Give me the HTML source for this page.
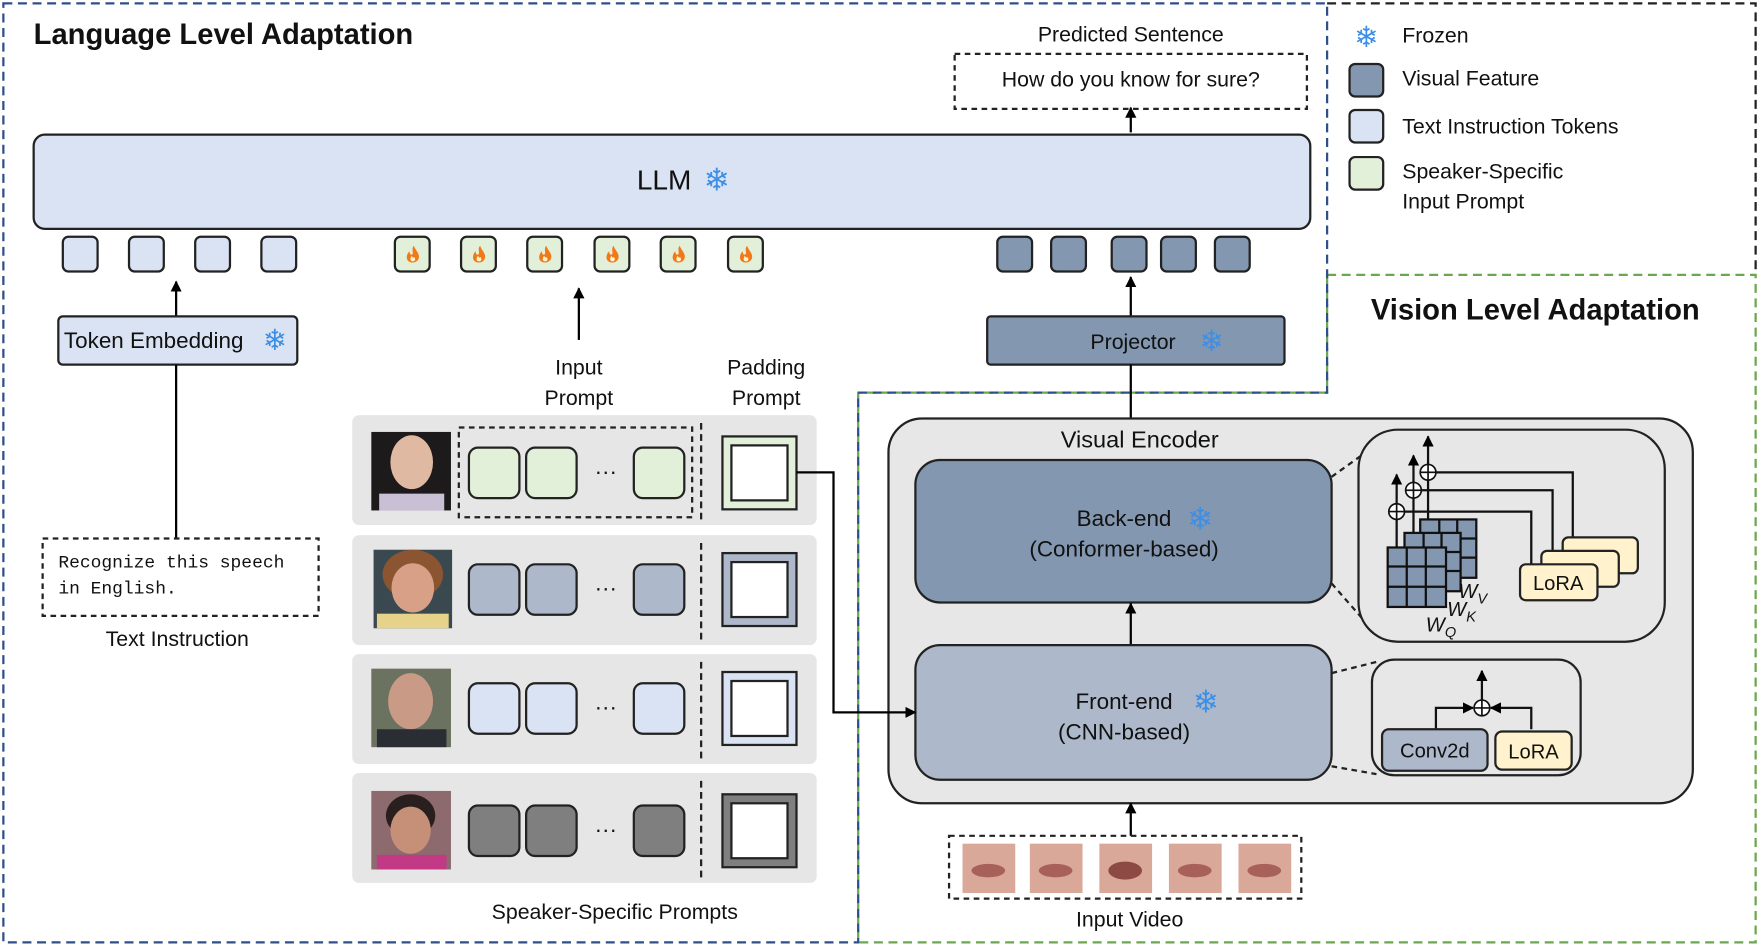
<!DOCTYPE html>
<html><head><meta charset="utf-8"><style>
html,body{margin:0;padding:0;background:#fff;width:1759px;height:948px;overflow:hidden}
svg{display:block}
text{font-family:"Liberation Sans","DejaVu Sans",sans-serif;fill:#111}
.m{font-family:"Liberation Mono","DejaVu Sans Mono",monospace}
.sf{fill:#3d8fe6;font-family:"DejaVu Sans",sans-serif}
</style></head><body>
<svg width="1759" height="948" viewBox="0 0 1568 845" preserveAspectRatio="none" xmlns="http://www.w3.org/2000/svg">
<defs>
<marker id="ar" markerWidth="10" markerHeight="10" refX="9" refY="5" orient="auto" markerUnits="userSpaceOnUse"><path d="M0,0 L10,5 L0,10z" fill="#000"/></marker>
<g id="flame"><path d="M0,7 C-6,7 -7,1 -3,-3 C-3,0 -1,1 0,-1 C0,-4 -1,-6 1,-8 C2,-4 7,-1 5,4 C4,6 2,7 0,7z" fill="#f07a1a"/><path d="M0,6 C-2,6 -3,4 -1,1 C0,3 1,3 1,2 C3,4 2,6 0,6z" fill="#fff2cc"/></g>
</defs>
<rect width="1568" height="845" fill="#fff"/>
<path d="M1183,245 L1565,245 L1565,840 L765,840 L765,350 L1183,350 Z" fill="none" stroke="#6aa84f" stroke-width="2" stroke-dasharray="8,5"/>
<path d="M1183,3 L1565,3 L1565,245" fill="none" stroke="#222" stroke-width="2" stroke-dasharray="8,5"/>
<path d="M3,3 L1183,3 L1183,350 L765,350 L765,840 L3,840 Z" fill="none" stroke="#2f4f8a" stroke-width="2" stroke-dasharray="8,5"/>
<text x="30" y="39" font-size="26" font-weight="bold">Language Level Adaptation</text>
<text x="1222" y="285" font-size="26" font-weight="bold">Vision Level Adaptation</text>
<text x="1218" y="42" font-size="26" class="sf" text-anchor="middle">❄</text>
<text x="1250" y="38" font-size="19">Frozen</text>
<rect x="1203" y="57" width="30" height="29" rx="5" fill="#8497b0" stroke="#222" stroke-width="2"/>
<text x="1250" y="76" font-size="19">Visual Feature</text>
<rect x="1203" y="98" width="30" height="29" rx="5" fill="#dae3f3" stroke="#222" stroke-width="2"/>
<text x="1250" y="119" font-size="19">Text Instruction Tokens</text>
<rect x="1203" y="140" width="30" height="29" rx="5" fill="#e2efd9" stroke="#222" stroke-width="2"/>
<text x="1250" y="159" font-size="19">Speaker-Specific</text>
<text x="1250" y="186" font-size="19">Input Prompt</text>
<text x="1008" y="37" font-size="19" text-anchor="middle">Predicted Sentence</text>
<rect x="851" y="48" width="314" height="49" fill="none" stroke="#222" stroke-width="2" stroke-dasharray="5,4"/>
<text x="1008" y="77" font-size="19" text-anchor="middle">How do you know for sure?</text>
<line x1="1008" y1="118" x2="1008" y2="96" stroke="#000" stroke-width="2" marker-end="url(#ar)"/>
<rect x="30" y="120" width="1138" height="84" rx="10" fill="#dae3f3" stroke="#222" stroke-width="2"/>
<text x="592" y="169" font-size="25" text-anchor="middle">LLM</text>
<text x="639" y="170" font-size="28" class="sf" text-anchor="middle">❄</text>
<g stroke="#222" stroke-width="2">
<rect x="56" y="211" width="31" height="31" rx="5" fill="#dae3f3"/>
<rect x="115" y="211" width="31" height="31" rx="5" fill="#dae3f3"/>
<rect x="174" y="211" width="31" height="31" rx="5" fill="#dae3f3"/>
<rect x="233" y="211" width="31" height="31" rx="5" fill="#dae3f3"/>
<rect x="352" y="211" width="31" height="31" rx="5" fill="#e2efd9"/>
<rect x="411" y="211" width="31" height="31" rx="5" fill="#e2efd9"/>
<rect x="470" y="211" width="31" height="31" rx="5" fill="#e2efd9"/>
<rect x="530" y="211" width="31" height="31" rx="5" fill="#e2efd9"/>
<rect x="589" y="211" width="31" height="31" rx="5" fill="#e2efd9"/>
<rect x="649" y="211" width="31" height="31" rx="5" fill="#e2efd9"/>
<rect x="889" y="211" width="31" height="31" rx="5" fill="#8497b0"/>
<rect x="937" y="211" width="31" height="31" rx="5" fill="#8497b0"/>
<rect x="991" y="211" width="31" height="31" rx="5" fill="#8497b0"/>
<rect x="1035" y="211" width="31" height="31" rx="5" fill="#8497b0"/>
<rect x="1083" y="211" width="31" height="31" rx="5" fill="#8497b0"/>
</g>
<use href="#flame" x="368" y="227"/><use href="#flame" x="427" y="227"/><use href="#flame" x="486" y="227"/>
<use href="#flame" x="546" y="227"/><use href="#flame" x="605" y="227"/><use href="#flame" x="665" y="227"/>
<line x1="157" y1="282" x2="157" y2="251" stroke="#000" stroke-width="2" marker-end="url(#ar)"/>
<rect x="52" y="282" width="213" height="43" rx="4" fill="#dae3f3" stroke="#222" stroke-width="2"/>
<text x="57" y="310" font-size="20">Token Embedding</text>
<text x="245" y="312" font-size="26" class="sf" text-anchor="middle">❄</text>
<line x1="157" y1="325" x2="157" y2="480" stroke="#000" stroke-width="2"/>
<rect x="38" y="480" width="246" height="69" fill="#fff" stroke="#222" stroke-width="2" stroke-dasharray="5,4"/>
<text x="52" y="506" font-size="16" class="m">Recognize this speech</text>
<text x="52" y="529" font-size="16" class="m">in English.</text>
<text x="158" y="576" font-size="19" text-anchor="middle">Text Instruction</text>
<line x1="516" y1="303" x2="516" y2="257" stroke="#000" stroke-width="2" marker-end="url(#ar)"/>
<text x="516" y="334" font-size="19" text-anchor="middle">Input</text>
<text x="516" y="361" font-size="19" text-anchor="middle">Prompt</text>
<text x="683" y="334" font-size="19" text-anchor="middle">Padding</text>
<text x="683" y="361" font-size="19" text-anchor="middle">Prompt</text>
<g>
<rect x="314" y="370" width="414" height="98" rx="6" fill="#e6e6e6"/>
<rect x="314" y="477" width="414" height="98" rx="6" fill="#e6e6e6"/>
<rect x="314" y="583" width="414" height="98" rx="6" fill="#e6e6e6"/>
<rect x="314" y="689" width="414" height="98" rx="6" fill="#e6e6e6"/>
</g>
<rect x="331" y="385" width="71" height="70" fill="#1c1a1a"/><ellipse cx="367" cy="412" rx="19" ry="24" fill="#e0b9a3"/><rect x="338" y="440" width="58" height="15" fill="#c9c0d6"/>
<rect x="333" y="490" width="70" height="70" fill="#3a4850"/><ellipse cx="368" cy="512" rx="27" ry="22" fill="#8a5530"/><ellipse cx="368" cy="524" rx="19" ry="22" fill="#d9a088"/><rect x="336" y="547" width="64" height="13" fill="#e6d28a"/>
<rect x="331" y="596" width="71" height="70" fill="#6c7260"/><ellipse cx="366" cy="625" rx="20" ry="25" fill="#c99a86"/><rect x="336" y="650" width="62" height="16" fill="#2a2e34"/>
<rect x="331" y="705" width="71" height="70" fill="#8c6a6e"/><ellipse cx="366" cy="727" rx="22" ry="19" fill="#2a1f1f"/><ellipse cx="366" cy="740" rx="18" ry="21" fill="#c58f78"/><rect x="336" y="762" width="62" height="13" fill="#c23a86"/>
<rect x="409" y="381" width="208" height="80" fill="none" stroke="#222" stroke-width="2" stroke-dasharray="5,4"/>
<g stroke="#222" stroke-width="2">
<rect x="418" y="399" width="45" height="45" rx="8" fill="#e2efd9"/><rect x="469" y="399" width="45" height="45" rx="8" fill="#e2efd9"/><rect x="565" y="399" width="45" height="45" rx="8" fill="#e2efd9"/>
<rect x="418" y="503" width="45" height="45" rx="8" fill="#adb9ca"/><rect x="469" y="503" width="45" height="45" rx="8" fill="#adb9ca"/><rect x="565" y="503" width="45" height="45" rx="8" fill="#adb9ca"/>
<rect x="418" y="609" width="45" height="45" rx="8" fill="#dae3f3"/><rect x="469" y="609" width="45" height="45" rx="8" fill="#dae3f3"/><rect x="565" y="609" width="45" height="45" rx="8" fill="#dae3f3"/>
<rect x="418" y="718" width="45" height="45" rx="8" fill="#7f7f7f"/><rect x="469" y="718" width="45" height="45" rx="8" fill="#7f7f7f"/><rect x="565" y="718" width="45" height="45" rx="8" fill="#7f7f7f"/>
<rect x="644" y="389" width="66" height="65" fill="#e2efd9"/><rect x="652" y="397" width="50" height="49" fill="#fff"/>
<rect x="644" y="493" width="66" height="65" fill="#adb9ca"/><rect x="652" y="501" width="50" height="49" fill="#fff"/>
<rect x="644" y="599" width="66" height="65" fill="#dae3f3"/><rect x="652" y="607" width="50" height="49" fill="#fff"/>
<rect x="644" y="708" width="66" height="65" fill="#7f7f7f"/><rect x="652" y="716" width="50" height="49" fill="#fff"/>
</g>
<g font-size="20" text-anchor="middle"><text x="540" y="427">···</text><text x="540" y="531">···</text><text x="540" y="637">···</text><text x="540" y="746">···</text></g>
<g stroke="#222" stroke-width="2" stroke-dasharray="6,4">
<line x1="625" y1="377" x2="625" y2="463"/><line x1="625" y1="484" x2="625" y2="570"/><line x1="625" y1="590" x2="625" y2="676"/><line x1="625" y1="696" x2="625" y2="782"/>
</g>
<text x="548" y="819" font-size="19" text-anchor="middle">Speaker-Specific Prompts</text>
<line x1="1008" y1="282" x2="1008" y2="247" stroke="#000" stroke-width="2" marker-end="url(#ar)"/>
<rect x="880" y="282" width="265" height="43" rx="3" fill="#8497b0" stroke="#222" stroke-width="2"/>
<text x="1010" y="311" font-size="19" text-anchor="middle">Projector</text>
<text x="1080" y="313" font-size="26" class="sf" text-anchor="middle">❄</text>
<line x1="1008" y1="325" x2="1008" y2="373" stroke="#000" stroke-width="2"/>
<rect x="792" y="373" width="717" height="343" rx="30" fill="#e7e7e7" stroke="#222" stroke-width="2"/>
<text x="1016" y="399" font-size="21" text-anchor="middle">Visual Encoder</text>
<rect x="816" y="410" width="371" height="127" rx="22" fill="#8497b0" stroke="#222" stroke-width="2"/>
<text x="1002" y="469" font-size="20" text-anchor="middle">Back-end</text>
<text x="1070" y="472" font-size="28" class="sf" text-anchor="middle">❄</text>
<text x="1002" y="496" font-size="20" text-anchor="middle">(Conformer-based)</text>
<line x1="1008" y1="575" x2="1008" y2="538" stroke="#000" stroke-width="2" marker-end="url(#ar)"/>
<rect x="816" y="575" width="371" height="120" rx="22" fill="#adb9ca" stroke="#222" stroke-width="2"/>
<text x="1002" y="632" font-size="20" text-anchor="middle">Front-end</text>
<text x="1075" y="635" font-size="28" class="sf" text-anchor="middle">❄</text>
<text x="1002" y="659" font-size="20" text-anchor="middle">(CNN-based)</text>
<path d="M710,421 L743,421 L743,635 L816,635" fill="none" stroke="#000" stroke-width="2" marker-end="url(#ar)"/>
<line x1="1008" y1="745" x2="1008" y2="716" stroke="#000" stroke-width="2" marker-end="url(#ar)"/>
<rect x="846" y="745" width="314" height="56" fill="none" stroke="#222" stroke-width="2" stroke-dasharray="5,4"/>
<g>
<rect x="858" y="752" width="47" height="44" fill="#d9a898"/><ellipse cx="881" cy="776" rx="15" ry="6" fill="#a8615a"/>
<rect x="918" y="752" width="47" height="44" fill="#d9a898"/><ellipse cx="941" cy="776" rx="15" ry="6" fill="#a8615a"/>
<rect x="980" y="752" width="47" height="44" fill="#d9a898"/><ellipse cx="1003" cy="776" rx="15" ry="8" fill="#8d4a45"/>
<rect x="1042" y="752" width="47" height="44" fill="#d9a898"/><ellipse cx="1065" cy="776" rx="15" ry="6" fill="#a8615a"/>
<rect x="1104" y="752" width="47" height="44" fill="#d9a898"/><ellipse cx="1127" cy="776" rx="15" ry="6" fill="#a8615a"/>
</g>
<text x="1007" y="826" font-size="19" text-anchor="middle">Input Video</text>
<line x1="1187" y1="425" x2="1215" y2="405" stroke="#222" stroke-width="2" stroke-dasharray="5,4"/>
<line x1="1187" y1="520" x2="1215" y2="552" stroke="#222" stroke-width="2" stroke-dasharray="5,4"/>
<rect x="1211" y="383" width="273" height="189" rx="35" fill="#e7e7e7" stroke="#222" stroke-width="2"/>
<g stroke="#111" stroke-width="2" fill="none">
<path d="M1245,488 V423" marker-end="url(#ar)"/><path d="M1260,475 V406" marker-end="url(#ar)"/><path d="M1273,463 V389" marker-end="url(#ar)"/>
<path d="M1252,456 H1365 V503"/><path d="M1267,437 H1384 V491"/><path d="M1280,421 H1402 V479"/>
</g>
<g stroke="#111" stroke-width="1.5" fill="#fff">
<circle cx="1245" cy="456" r="7"/><circle cx="1260" cy="437" r="7"/><circle cx="1273" cy="421" r="7"/>
</g>
<g stroke="#111" stroke-width="1.5"><line x1="1238" y1="456" x2="1252" y2="456"/><line x1="1245" y1="449" x2="1245" y2="463"/><line x1="1253" y1="437" x2="1267" y2="437"/><line x1="1260" y1="430" x2="1260" y2="444"/><line x1="1266" y1="421" x2="1280" y2="421"/><line x1="1273" y1="414" x2="1273" y2="428"/></g>
<g stroke="#111" stroke-width="2" fill="#8497b0">
<rect x="1266" y="463" width="50" height="52"/>
<path d="M1283,463V515M1299,463V515M1266,480H1316M1266,497H1316"/>
<rect x="1252" y="475" width="50" height="52"/>
<path d="M1269,475V527M1285,475V527M1252,492H1302M1252,509H1302"/>
<rect x="1237" y="488" width="52" height="53"/>
<path d="M1254,488V541M1271,488V541M1237,505H1289M1237,523H1289"/>
</g>
<text x="1300" y="533" font-size="18" font-style="italic" font-family="Liberation Serif,serif">W<tspan font-size="13" dy="5">V</tspan></text>
<text x="1290" y="549" font-size="18" font-style="italic" font-family="Liberation Serif,serif">W<tspan font-size="13" dy="5">K</tspan></text>
<text x="1271" y="563" font-size="18" font-style="italic" font-family="Liberation Serif,serif">W<tspan font-size="13" dy="5">Q</tspan></text>
<g stroke="#222" stroke-width="2" fill="#fff2cc">
<rect x="1393" y="479" width="67" height="32" rx="5"/><rect x="1374" y="491" width="69" height="32" rx="5"/><rect x="1355" y="503" width="69" height="32" rx="5"/>
</g>
<text x="1389" y="526" font-size="18" text-anchor="middle">LoRA</text>
<line x1="1187" y1="600" x2="1227" y2="590" stroke="#222" stroke-width="2" stroke-dasharray="5,4"/>
<line x1="1187" y1="683" x2="1227" y2="690" stroke="#222" stroke-width="2" stroke-dasharray="5,4"/>
<rect x="1223" y="588" width="186" height="103" rx="20" fill="#e7e7e7" stroke="#222" stroke-width="2"/>
<g stroke="#111" stroke-width="2" fill="none">
<path d="M1280,650 V631 H1313" marker-end="url(#ar)"/><path d="M1365,650 V631 H1329" marker-end="url(#ar)"/>
<path d="M1321,624 V598" marker-end="url(#ar)"/>
</g>
<circle cx="1321" cy="631" r="7" fill="#fff" stroke="#111" stroke-width="1.5"/>
<path d="M1314,631H1328M1321,624V638" stroke="#111" stroke-width="1.5"/>
<rect x="1232" y="650" width="94" height="37" rx="6" fill="#adb9ca" stroke="#222" stroke-width="2"/>
<text x="1279" y="675" font-size="18" text-anchor="middle">Conv2d</text>
<rect x="1333" y="652" width="68" height="34" rx="6" fill="#fff2cc" stroke="#222" stroke-width="2"/>
<text x="1367" y="676" font-size="18" text-anchor="middle">LoRA</text>
</svg>
</body></html>
